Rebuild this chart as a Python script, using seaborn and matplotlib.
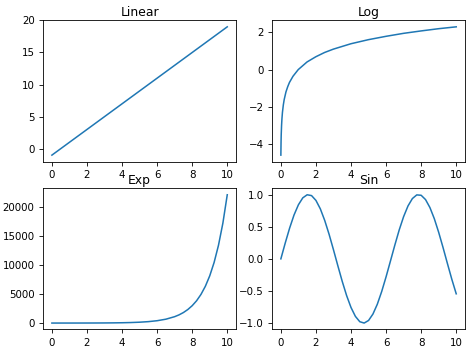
import matplotlib
matplotlib.use("Agg")
import matplotlib.pyplot as plt
import seaborn as sns

# valeurs
x_lin = [0, 2, 4, 6, 8, 10]
y_lin = [-1, 3, 7, 11, 15, 19]

x_log = [0.01, 0.02, 0.03, 0.05, 0.07, 0.1, 0.15, 0.2, 0.3, 0.4, 0.5, 0.7, 1, 1.5, 2, 2.5, 3,
         4, 5, 6, 7, 8, 9, 10]
y_log = [-4.6, -3.91, -3.5, -3.0, -2.66, -2.3, -1.9, -1.61, -1.2, -0.92, -0.69, -0.36, 0,
         0.41, 0.69, 0.92, 1.1, 1.39, 1.61, 1.79, 1.95, 2.08, 2.2, 2.3]

x_exp = [0, 0.5, 1, 1.5, 2, 2.5, 3, 3.5, 4, 4.5, 5, 5.5, 6, 6.5, 7, 7.25, 7.5, 7.75, 8,
         8.25, 8.5, 8.75, 9, 9.25, 9.5, 9.75, 10]
y_exp = [1, 1.6, 2.7, 4.5, 7.4, 12, 20, 33, 55, 90, 148, 245, 403, 665, 1097, 1408, 1808,
         2322, 2981, 3827, 4915, 6310, 8103, 10405, 13360, 17154, 22026]

x_sin = [0, 0.25, 0.5, 0.75, 1, 1.25, 1.5, 1.75, 2, 2.25, 2.5, 2.75, 3, 3.25, 3.5, 3.75,
         4, 4.25, 4.5, 4.75, 5, 5.25, 5.5, 5.75, 6, 6.25, 6.5, 6.75, 7, 7.25, 7.5, 7.75,
         8, 8.25, 8.5, 8.75, 9, 9.25, 9.5, 9.75, 10]
y_sin = [0, 0.247, 0.479, 0.682, 0.841, 0.949, 0.997, 0.984, 0.909, 0.778, 0.598, 0.382,
         0.141, -0.108, -0.351, -0.572, -0.757, -0.895, -0.978, -0.999, -0.959, -0.859,
         -0.706, -0.508, -0.279, -0.033, 0.215, 0.451, 0.657, 0.823, 0.938, 0.995, 0.989,
         0.922, 0.798, 0.625, 0.412, 0.174, -0.075, -0.319, -0.544]

plt.rcParams['font.size'] = 7.4
plt.rcParams['axes.titlesize'] = 8.9

fig, axes = plt.subplots(2, 2, figsize=(4.74, 3.52), dpi=100)

sns.lineplot(x=x_lin, y=y_lin, ax=axes[0, 0], color='#1f77b4', linewidth=1.1)
axes[0, 0].set_title('Linear', pad=3)
axes[0, 0].set_yticks([0, 5, 10, 15, 20])

sns.lineplot(x=x_log, y=y_log, ax=axes[0, 1], color='#1f77b4', linewidth=1.1)
axes[0, 1].set_title('Log', pad=3)

sns.lineplot(x=x_exp, y=y_exp, ax=axes[1, 0], color='#1f77b4', linewidth=1.1)
axes[1, 0].set_title('Exp', pad=3)

sns.lineplot(x=x_sin, y=y_sin, ax=axes[1, 1], color='#1f77b4', linewidth=1.1)
axes[1, 1].set_title('Sin', pad=3)

for ax in axes.flat:
    ax.set_xticks([0, 2, 4, 6, 8, 10])
    ax.tick_params(length=2.6, width=0.6)
    for s in ax.spines.values():
        s.set_linewidth(0.6)

plt.subplots_adjust(left=0.091, right=0.981, top=0.942, bottom=0.064, wspace=0.187, hspace=0.19)
plt.savefig('out.png', dpi=100)
